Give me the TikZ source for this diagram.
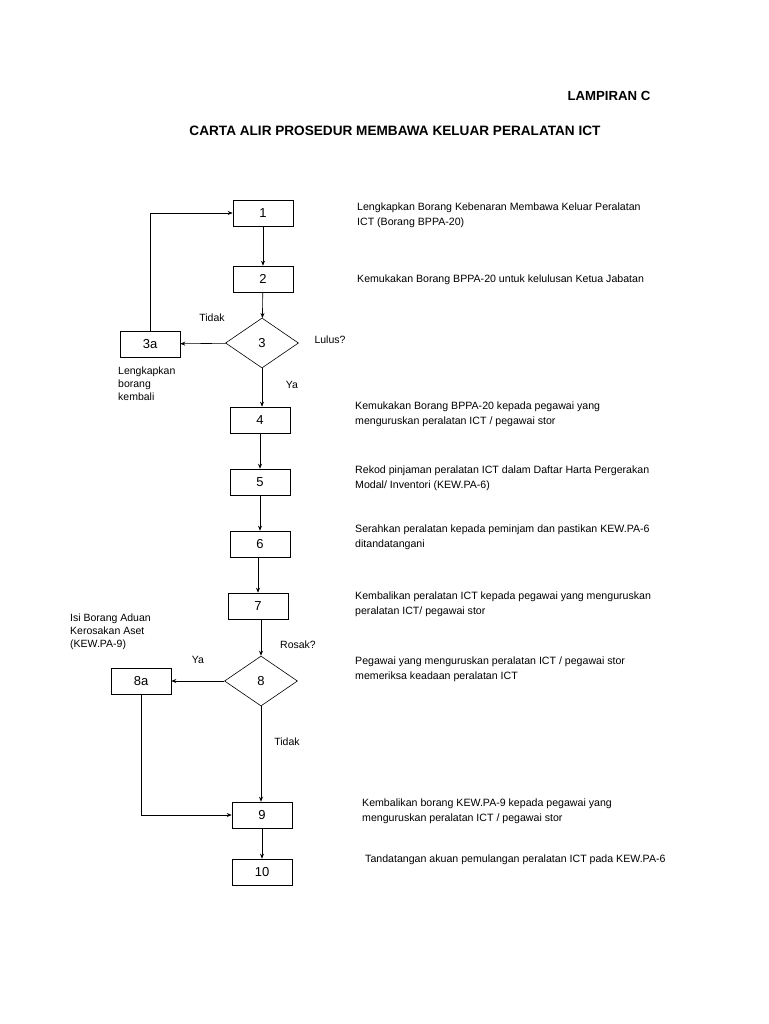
\documentclass[tikz,border=0pt]{standalone}
\usepackage{fontspec}
\setmainfont{Liberation Sans}
\usetikzlibrary{shapes.geometric,arrows.meta}
\begin{document}
\begin{tikzpicture}[x=1pt,y=-1pt,
 bx/.style={draw,line width=0.6pt,minimum width=60pt,minimum height=26pt,font=\fontsize{13}{15}\selectfont},
 dm/.style={draw,diamond,line width=0.6pt,aspect=1.45,minimum width=73pt,minimum height=50pt,inner sep=0pt,font=\fontsize{13}{15}\selectfont},
 tx/.style={anchor=north west,align=left,font=\fontsize{10.6}{14.5}\selectfont,inner sep=0pt},
 lb/.style={font=\fontsize{10.5}{12}\selectfont,inner sep=0pt},
 ar/.style={-{Stealth[length=5pt,width=4pt]},line width=0.6pt}]
\useasboundingbox (0,0) rectangle (768,1024);
\node[font=\bfseries\fontsize{13.2}{15}\selectfont] (t1) at (609,96) {LAMPIRAN C};
\node[font=\bfseries\fontsize{13.6}{15}\selectfont] (t2) at (395,131) {CARTA ALIR PROSEDUR MEMBAWA KELUAR PERALATAN ICT};
\node[bx] (n1) at (263,213) {1};
\node[bx] (n2) at (263,279) {2};
\node[dm] (n3) at (262,343) {3};
\node[bx] (n3a) at (150,344) {3a};
\node[bx] (n4) at (260,420) {4};
\node[bx] (n5) at (260,482) {5};
\node[bx] (n6) at (260,544) {6};
\node[bx] (n7) at (258,606) {7};
\node[dm] (n8) at (261,681) {8};
\node[bx] (n8a) at (141,681) {8a};
\node[bx] (n9) at (262,815) {9};
\node[bx] (n10) at (262,872) {10};
\draw[ar] (n1) -- (n2);
\draw[ar] (n2) -- (n3);
\draw[ar] (n3) -- (n3a);
\draw[ar] (n3a.north) |- (n1.west);
\draw[ar] (n3.south) -- (n3.south |- n4.north);
\draw[ar] (n4) -- (n5);
\draw[ar] (n5) -- (n6);
\draw[ar] (n6.south) -- (n6.south -| n7) -- (n7.north);
\draw[ar] (n7.south) -- (n7.south -| n8) -- (n8.north);
\draw[ar] (n8) -- (n8a);
\draw[ar] (n8.south) -- (n8.south |- n9.north);
\draw[ar] (n8a.south) |- (n9.west);
\draw[ar] (n9) -- (n10);
\node[lb] (l1) at (212,318) {Tidak};
\node[lb] (l2) at (330,340) {Lulus?};
\node[lb] (l3) at (292,385) {Ya};
\node[tx,font=\fontsize{10.5}{13}\selectfont] (l4) at (118,367) {Lengkapkan\\borang\\kembali};
\node[tx,font=\fontsize{10.5}{13}\selectfont] (l5) at (70,614) {Isi Borang Aduan\\Kerosakan Aset\\(KEW.PA-9)};
\node[lb] (l6) at (198,660) {Ya};
\node[lb] (l7) at (298,645) {Rosak?};
\node[lb] (l8) at (287,742) {Tidak};
\node[tx] (d1) at (357,203) {Lengkapkan Borang Kebenaran Membawa Keluar Peralatan\\ICT (Borang BPPA-20)};
\node[tx] (d2) at (357,275) {Kemukakan Borang BPPA-20 untuk kelulusan Ketua Jabatan};
\node[tx] (d4) at (355,402) {Kemukakan Borang BPPA-20 kepada pegawai yang\\menguruskan peralatan ICT / pegawai stor};
\node[tx] (d5) at (355,466) {Rekod pinjaman peralatan ICT dalam Daftar Harta Pergerakan\\Modal/ Inventori (KEW.PA-6)};
\node[tx] (d6) at (355,525) {Serahkan peralatan kepada peminjam dan pastikan KEW.PA-6\\ditandatangani};
\node[tx] (d7) at (355,592) {Kembalikan peralatan ICT kepada pegawai yang menguruskan\\peralatan ICT/ pegawai stor};
\node[tx] (d8) at (355,657) {Pegawai yang menguruskan peralatan ICT / pegawai stor\\memeriksa keadaan peralatan ICT};
\node[tx] (d9) at (362,799) {Kembalikan borang KEW.PA-9 kepada pegawai yang\\menguruskan peralatan ICT / pegawai stor};
\node[tx] (d10) at (365,855) {Tandatangan akuan pemulangan peralatan ICT pada KEW.PA-6};
\end{tikzpicture}
\end{document}
